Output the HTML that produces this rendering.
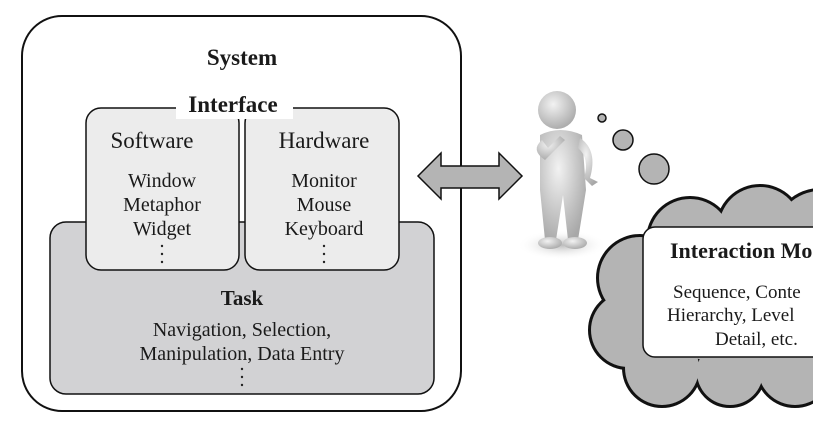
<!DOCTYPE html>
<html><head><meta charset="utf-8"><style>
body{margin:0;background:#fff;width:813px;height:427px;overflow:hidden}
svg text{font-family:"Liberation Serif",serif;fill:#1a1a1a}
</style></head><body>
<svg width="813" height="427" viewBox="0 0 813 427" xmlns="http://www.w3.org/2000/svg">
<defs>
<radialGradient id="g" cx="40%" cy="35%" r="70%"><stop offset="0" stop-color="#f2f2f2"/><stop offset="1" stop-color="#a8a8a8"/></radialGradient>
<radialGradient id="sh" cx="50%" cy="50%" r="50%"><stop offset="0" stop-color="#bbb"/><stop offset="1" stop-color="#fff" stop-opacity="0"/></radialGradient>
</defs>
<rect x="22" y="16" width="439" height="395" rx="40" fill="#fff" stroke="#111" stroke-width="2"/>
<text x="242" y="65" font-size="23" font-weight="bold" text-anchor="middle">System</text>
<rect x="50" y="222" width="384" height="172" rx="16" fill="#d2d2d4" stroke="#111" stroke-width="1.5"/>
<rect x="86" y="108" width="153" height="162" rx="15" fill="#ececec" stroke="#111" stroke-width="1.5"/>
<rect x="245" y="108" width="154" height="162" rx="15" fill="#ececec" stroke="#111" stroke-width="1.5"/>
<rect x="176" y="92" width="117" height="27" fill="#fff"/>
<text x="233" y="112" font-size="23" font-weight="bold" text-anchor="middle">Interface</text>
<g font-size="23" text-anchor="middle">
<text x="152" y="148">Software</text>
<text x="324" y="148">Hardware</text>
</g>
<g font-size="20" text-anchor="middle">
<text x="162" y="187">Window</text><text x="162" y="211">Metaphor</text><text x="162" y="235">Widget</text>
<text x="324" y="187">Monitor</text><text x="324" y="211">Mouse</text><text x="324" y="235">Keyboard</text>
<text x="242" y="336">Navigation, Selection,</text><text x="242" y="360">Manipulation, Data Entry</text>
</g>
<g fill="#222"><circle cx="162" cy="246" r="1.2"/><circle cx="162" cy="254" r="1.2"/><circle cx="162" cy="262" r="1.2"/>
<circle cx="324" cy="246" r="1.2"/><circle cx="324" cy="254" r="1.2"/><circle cx="324" cy="262" r="1.2"/>
<circle cx="242" cy="369" r="1.2"/><circle cx="242" cy="377" r="1.2"/><circle cx="242" cy="385" r="1.2"/></g>
<text x="242" y="305" font-size="21" font-weight="bold" text-anchor="middle">Task</text>
<polygon points="418,176 441,153 441,166 499,166 499,153 522,176 499,199 499,188 441,188 441,199" fill="#b4b4b4" stroke="#111" stroke-width="1.5"/>
<!-- person -->
<ellipse cx="562" cy="245" rx="45" ry="15" fill="url(#sh)"/>
<path d="M540 135 Q560 125 582 135 L586 190 L578 240 L568 240 L563 195 L556 240 L545 240 L540 190 Z" fill="url(#g)"/>
<path d="M580 138 Q598 150 590 178 L598 182 L592 186 L584 178 Q590 158 578 148 Z" fill="url(#g)"/>
<path d="M542 140 Q530 150 545 160 L565 140 L560 136 L548 148 Z" fill="url(#g)"/>
<ellipse cx="550" cy="243" rx="12" ry="6" fill="url(#g)"/><ellipse cx="575" cy="243" rx="12" ry="6" fill="url(#g)"/>
<circle cx="557" cy="110" r="19" fill="url(#g)"/>
<!-- bubbles -->
<circle cx="602" cy="118" r="4" fill="#b4b4b4" stroke="#111" stroke-width="1.5"/>
<circle cx="623" cy="140" r="10" fill="#b4b4b4" stroke="#111" stroke-width="1.5"/>
<circle cx="654" cy="169" r="15" fill="#b4b4b4" stroke="#111" stroke-width="1.5"/>
<!-- cloud -->
<g stroke="#111" stroke-width="4" fill="#111">
<circle cx="690" cy="240" r="42"/><circle cx="760" cy="228" r="42"/><circle cx="820" cy="235" r="45"/>
<circle cx="640" cy="278" r="42"/><circle cx="628" cy="330" r="38"/><circle cx="662" cy="368" r="38"/>
<circle cx="730" cy="372" r="34"/><circle cx="795" cy="368" r="38"/><circle cx="710" cy="300" r="60"/><circle cx="780" cy="300" r="60"/></g>
<g fill="#b4b4b4">
<circle cx="690" cy="240" r="41"/><circle cx="760" cy="228" r="41"/><circle cx="820" cy="235" r="44"/>
<circle cx="640" cy="278" r="41"/><circle cx="628" cy="330" r="37"/><circle cx="662" cy="368" r="37"/>
<circle cx="730" cy="372" r="33"/><circle cx="795" cy="368" r="37"/><circle cx="710" cy="300" r="60"/><circle cx="780" cy="300" r="60"/></g>
<rect x="643" y="227" width="190" height="130" rx="12" fill="#fff" stroke="#111" stroke-width="1.5"/>
<text x="670" y="258" font-size="22" font-weight="bold">Interaction Mo</text>
<g font-size="19">
<text x="673" y="298">Sequence, Conte</text><text x="667" y="321">Hierarchy, Level</text><text x="715" y="345">Detail, etc.</text></g>
</svg>
</body></html>
